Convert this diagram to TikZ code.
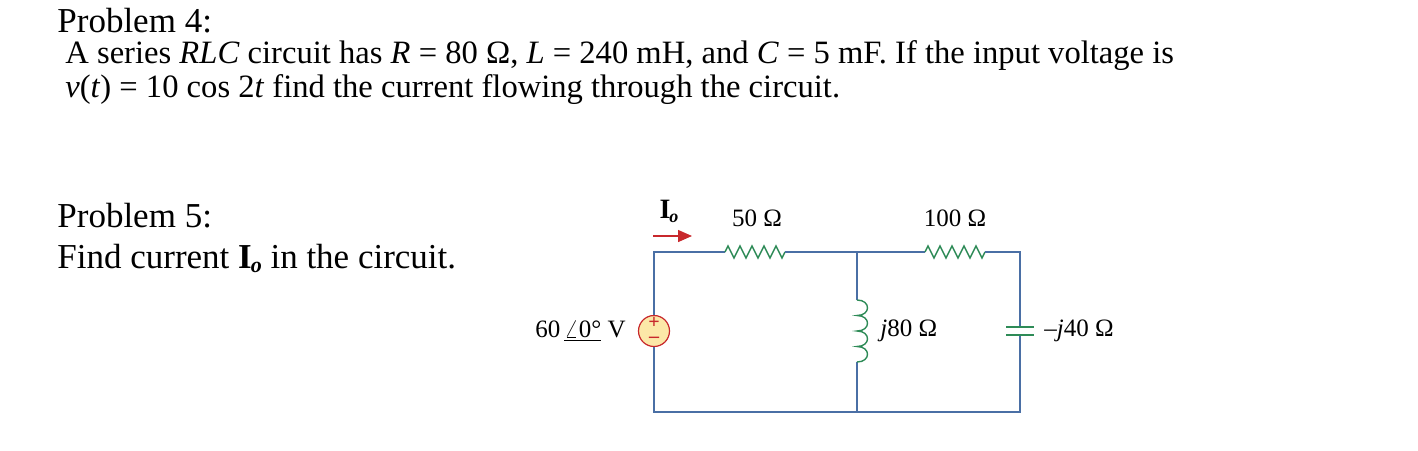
\documentclass[tikz,border=0pt]{standalone}
\usepackage{fontspec}
\setmainfont{Liberation Serif}
\usetikzlibrary{arrows.meta,decorations.pathmorphing}
\definecolor{wire}{HTML}{4A6FA5}
\definecolor{comp}{HTML}{2E8B57}
\definecolor{srcfill}{HTML}{FCE8A8}
\definecolor{srcred}{HTML}{C8282C}
\begin{document}
\begin{tikzpicture}[x=0.5pt,y=-0.5pt,
  wirest/.style={draw=wire,line width=0.7pt},
  resst/.style={draw=comp,line width=0.7pt,decorate,decoration={zigzag,segment length=6pt,amplitude=3pt}},
  lbl/.style={font=\fontsize{12.5}{14}\selectfont,inner sep=0pt},
  txt/.style={anchor=west,inner sep=0pt}]
\useasboundingbox (0,0) rectangle (1418,450);
\node[txt,font=\fontsize{17.5}{20}\selectfont] (p4) at (57,21) {Problem 4:};
\node[txt,font=\fontsize{16.3}{18}\selectfont] (l1) at (65,56) {A series \textit{RLC} circuit has \textit{R} = 80 Ω, \textit{L} = 240 mH, and \textit{C} = 5 mF. If the input voltage is};
\node[txt,font=\fontsize{16.3}{18}\selectfont] (l2) at (65,90) {\textit{v}(\textit{t}) = 10 cos 2\textit{t} find the current flowing through the circuit.};
\node[txt,font=\fontsize{17.5}{20}\selectfont] (p5) at (57,216) {Problem 5:};
\node[txt,font=\fontsize{17.5}{20}\selectfont] (f5) at (57,258) {Find current \textbf{I}\kern-0.5pt\raisebox{-2pt}{\fontsize{11}{11}\selectfont\textit{\textbf{o}}} in the circuit.};
% circuit corners
\coordinate (tl) at (654,252); \coordinate (tm) at (857,252); \coordinate (tr) at (1020,252);
\coordinate (bl) at (654,412); \coordinate (bm) at (857,412); \coordinate (br) at (1020,412);
\coordinate (r1a) at (725,252); \coordinate (r1b) at (785,252);
\coordinate (r2a) at (925,252); \coordinate (r2b) at (985,252);
\coordinate (la) at (857,300); \coordinate (lb) at (857,362);
\coordinate (ca) at (1020,327); \coordinate (cb) at (1020,335);
\node[circle,draw=srcred,fill=srcfill,minimum size=15.5pt,inner sep=0pt,line width=0.6pt] (src) at (654,331) {};
\node[text=srcred,font=\bfseries\fontsize{10}{10}\selectfont,inner sep=0pt] (plus) at (654,323) {+};
\node[text=srcred,font=\bfseries\fontsize{10}{10}\selectfont,inner sep=0pt] (minus) at (654,340) {–};
\draw[wirest] (src.north) -- (tl) -- (r1a);
\draw[resst] (r1a) -- (r1b);
\draw[wirest] (r1b) -- (tm) -- (r2a);
\draw[resst] (r2a) -- (r2b);
\draw[wirest] (r2b) -- (tr) -- (ca);
\draw[wirest] (cb) -- (br) -- (bm) -- (bl) -- (src.south);
\draw[wirest] (tm) -- (la); \draw[wirest] (lb) -- (bm);
\draw[comp,line width=0.7pt] (la)
  .. controls (871,300) and (871,315.5) .. (857,315.5)
  .. controls (871,315.5) and (871,331) .. (857,331)
  .. controls (871,331) and (871,346.5) .. (857,346.5)
  .. controls (871,346.5) and (871,362) .. (lb);
\draw[comp,line width=0.9pt] (1006,327) -- (1034,327) (1006,335) -- (1034,335);
% labels
\node[lbl] (t50) at (757,218) {50 Ω};
\node[lbl] (t100) at (955,218) {100 Ω};
\node[lbl,font=\fontsize{14}{15}\selectfont] (io) at (669,211) {\textbf{I}\kern-0.5pt\raisebox{-2pt}{\fontsize{9}{9}\selectfont\textit{\textbf{o}}}};
\coordinate (ia) at (653,236); \coordinate (ib) at (692,236);
\draw[srcred,line width=0.7pt,-{Triangle[length=7pt,width=6pt]}] (ia) -- (ib);
\node[lbl,anchor=east] (vs) at (626,331) {60\,\underline{$\angle$0°} V};
\node[lbl,anchor=west] (tl80) at (880,331) {\textit{j}80 Ω};
\node[lbl,anchor=west] (tc40) at (1044,331) {–\textit{j}40 Ω};
\end{tikzpicture}
\end{document}
